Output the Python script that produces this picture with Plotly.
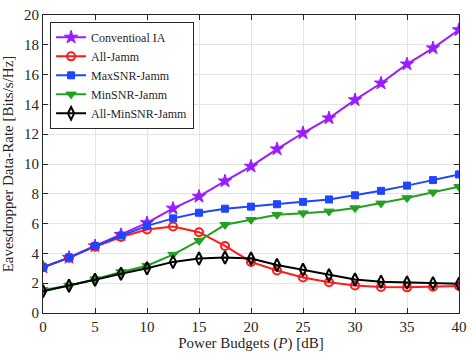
import plotly.graph_objects as go

power_db = [0, 2.5, 5, 7.5, 10, 12.5, 15, 17.5, 20, 22.5, 25, 27.5, 30, 32.5, 35, 37.5, 40]

conventional_ia = [3.07, 3.72, 4.5, 5.25, 6.05, 7.02, 7.82, 8.85, 9.84, 11.0, 12.08, 13.08, 14.3, 15.42, 16.7, 17.78, 19.0]
all_jamm = [3.07, 3.7, 4.45, 5.1, 5.6, 5.8, 5.42, 4.5, 3.43, 2.85, 2.38, 2.06, 1.85, 1.74, 1.72, 1.76, 1.82]
maxsnr_jamm = [3.07, 3.72, 4.5, 5.2, 5.85, 6.35, 6.73, 7.0, 7.14, 7.3, 7.46, 7.62, 7.9, 8.2, 8.55, 8.92, 9.3]
minsnr_jamm = [1.55, 1.85, 2.27, 2.75, 3.17, 3.92, 4.85, 5.92, 6.26, 6.6, 6.7, 6.82, 7.04, 7.36, 7.72, 8.1, 8.47]
all_minsnr_jamm = [1.46, 1.83, 2.23, 2.64, 3.0, 3.43, 3.65, 3.72, 3.65, 3.22, 2.9, 2.53, 2.25, 2.1, 2.04, 2.0, 1.96]

series = [
    ("Conventioal IA", conventional_ia, "#9B1CFF", "star", 10),
    ("All-Jamm", all_jamm, "#FF1A1A", "circle-open", 8),
    ("MaxSNR-Jamm", maxsnr_jamm, "#1F45FF", "square", 7),
    ("MinSNR-Jamm", minsnr_jamm, "#22A022", "triangle-down", 9),
    ("All-MinSNR-Jamm", all_minsnr_jamm, "#000000", "diamond-tall-open", 9),
]

fig = go.Figure()
for name, vals, color, sym, size in series:
    fig.add_trace(go.Scatter(
        x=power_db, y=vals, mode="lines+markers", name=name,
        line=dict(color=color, width=2),
        marker=dict(symbol=sym, size=size, color=color,
                    line=dict(color=color, width=2 if "open" in sym else 1)),
    ))

font_family = "Liberation Serif"
axis_common = dict(
    showline=True, linecolor="#262626", linewidth=1, mirror="ticks",
    ticks="inside", ticklen=5, tickcolor="#262626",
    showgrid=True, gridcolor="#E3E3E3", gridwidth=1, zeroline=False,
    tickfont=dict(family=font_family, size=15, color="#262626"),
)
fig.update_xaxes(range=[0, 40], dtick=5, title=dict(text="Power Budgets (<i>P</i>) [dB]",
                 font=dict(family=font_family, size=15, color="#262626"), standoff=2), **axis_common)
fig.update_yaxes(range=[0, 20], dtick=2, title=dict(text="Eavesdropper Data-Rate [Bits/s/Hz]",
                 font=dict(family=font_family, size=15, color="#262626"), standoff=6), **axis_common)

fig.update_layout(
    width=474, height=355,
    margin=dict(l=43, r=7, t=9, b=37),
    paper_bgcolor="white", plot_bgcolor="white",
    font=dict(family=font_family, size=13, color="#262626"),
    legend=dict(x=0.017, y=0.977, xanchor="left", yanchor="top",
                bgcolor="white", bordercolor="#262626", borderwidth=1,
                font=dict(family=font_family, size=12, color="#262626"),
                tracegroupgap=0, itemwidth=30),
    showlegend=True,
)

fig.write_html("out.html", config={"displayModeBar": False},
               post_script="document.body.style.margin='0';")
